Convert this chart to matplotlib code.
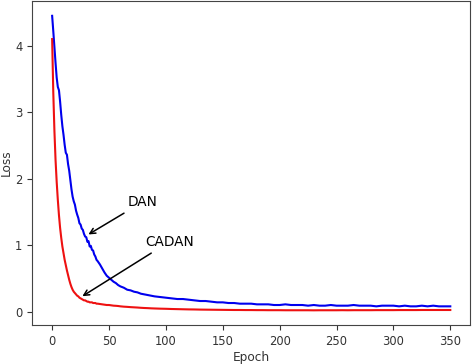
import matplotlib
matplotlib.use("Agg")
import matplotlib.pyplot as plt

epochs = [0, 1, 2, 3, 4, 5, 6, 7, 8, 9, 10, 11, 12, 13, 14, 15, 16, 17, 18, 19,
          20, 21, 22, 23, 24, 25, 26, 27, 28, 29, 30, 31, 32, 33, 34, 35, 36, 37, 38, 39,
          40, 42, 44, 46, 48, 50, 52, 54, 56, 58, 60, 63, 66, 69, 72, 75, 78, 81, 84, 87,
          90, 95, 100, 105, 110, 115, 120, 125, 130, 135, 140, 145, 150, 155, 160, 165,
          170, 175, 180, 185, 190, 195, 200, 205, 210, 215, 220, 225, 230, 235, 240, 245,
          250, 255, 260, 265, 270, 275, 280, 285, 290, 295, 300, 305, 310, 315, 320, 325,
          330, 335, 340, 345, 350]

dan_loss = [4.45, 4.22, 3.98, 3.74, 3.52, 3.38, 3.33, 3.16, 2.96, 2.79, 2.66, 2.51, 2.39, 2.36, 2.22, 2.12, 1.98, 1.84, 1.73, 1.66,
            1.61, 1.52, 1.46, 1.41, 1.33, 1.31, 1.25, 1.23, 1.17, 1.13, 1.12, 1.05, 1.06, 0.98, 0.99, 0.93, 0.92, 0.86, 0.83, 0.78,
            0.76, 0.71, 0.65, 0.59, 0.54, 0.51, 0.48, 0.45, 0.43, 0.40, 0.38, 0.36, 0.33, 0.32, 0.30, 0.29, 0.27, 0.26, 0.25, 0.24,
            0.23, 0.22, 0.21, 0.20, 0.19, 0.19, 0.18, 0.17, 0.16, 0.16, 0.15, 0.14, 0.14, 0.13, 0.13, 0.12,
            0.12, 0.12, 0.11, 0.11, 0.11, 0.10, 0.10, 0.11, 0.10, 0.10, 0.10, 0.09, 0.10, 0.09, 0.09, 0.10,
            0.09, 0.09, 0.09, 0.10, 0.09, 0.09, 0.09, 0.08, 0.09, 0.09, 0.09, 0.08, 0.09, 0.08, 0.08, 0.09,
            0.08, 0.09, 0.08, 0.08, 0.08]

cadan_loss = [4.10, 3.30, 2.72, 2.28, 1.95, 1.68, 1.45, 1.26, 1.11, 0.98, 0.88, 0.78, 0.70, 0.62, 0.55, 0.48, 0.42, 0.37, 0.33, 0.30,
              0.28, 0.26, 0.24, 0.23, 0.21, 0.20, 0.19, 0.18, 0.17, 0.17, 0.16, 0.15, 0.15, 0.14, 0.14, 0.14, 0.13, 0.13, 0.13, 0.12,
              0.12, 0.115, 0.11, 0.105, 0.10, 0.10, 0.095, 0.09, 0.088, 0.085, 0.08, 0.075, 0.072, 0.068, 0.065, 0.062, 0.058, 0.055, 0.053, 0.05,
              0.048, 0.045, 0.043, 0.04, 0.038, 0.036, 0.034, 0.033, 0.031, 0.03, 0.029, 0.028, 0.027, 0.026, 0.025, 0.025,
              0.024, 0.024, 0.023, 0.023, 0.022, 0.022, 0.022, 0.021, 0.021, 0.021, 0.021, 0.021, 0.02, 0.021, 0.021, 0.021,
              0.021, 0.022, 0.021, 0.022, 0.022, 0.022, 0.022, 0.023, 0.023, 0.023, 0.023, 0.024, 0.024, 0.024, 0.024, 0.025,
              0.025, 0.025, 0.025, 0.025, 0.025]

x_ticks = [0, 50, 100, 150, 200, 250, 300, 350]
y_ticks = [0, 1, 2, 3, 4]

fig = plt.figure(figsize=(4.74, 3.64), dpi=100)
ax = fig.add_axes([0.068, 0.107, 0.924, 0.89])

ax.plot(epochs, dan_loss, color="#0000ee", lw=1.5)
ax.plot(epochs, cadan_loss, color="#ee1111", lw=1.5)

ax.set_xticks(x_ticks)
ax.set_yticks(y_ticks)
ax.tick_params(labelsize=8.3, colors="#333333")
for s in ax.spines.values():
    s.set_color("#444444")

ax.set_xlabel("Epoch", fontsize=8.7, color="#333333", labelpad=2)
ax.set_ylabel("Loss", fontsize=8.7, color="#333333", labelpad=2)

ax.annotate("DAN", xy=(29.8, 1.14), xytext=(66.5, 1.65),
            fontsize=9.8, va="center", ha="left",
            arrowprops=dict(arrowstyle="->", color="black", lw=1.1))
ax.annotate("CADAN", xy=(24.5, 0.21), xytext=(81.5, 1.05),
            fontsize=9.8, va="center", ha="left",
            arrowprops=dict(arrowstyle="->", color="black", lw=1.1))

fig.savefig("out.png", dpi=100)
